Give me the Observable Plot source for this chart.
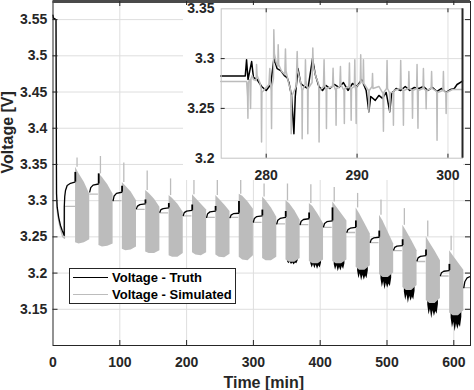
<!DOCTYPE html>
<html>
<head>
<meta charset="utf-8">
<script src="https://cdn.jsdelivr.net/npm/d3@7"></script>
<script src="https://cdn.jsdelivr.net/npm/@observablehq/plot@0.6"></script>
<style>
html,body{margin:0;padding:0;background:#fff;}
#chart{position:relative;width:474px;height:390px;overflow:hidden;background:#fff;font-family:"Liberation Sans",Arial,Helvetica,sans-serif;}
#chart svg{display:block;}
#main{position:absolute;left:0;top:0;}
#inset{position:absolute;left:183px;top:5px;}
#legend{position:absolute;left:69px;top:268px;width:167px;height:36px;box-sizing:border-box;border:1px solid #262626;background:#fff;}
.row{display:flex;align-items:center;height:17px;}
.sw{width:35px;margin-left:3px;margin-right:4px;}
.lab{font-size:13px;font-weight:bold;color:#000;white-space:nowrap;}
</style>
</head>
<body>
<div id="chart"><div id="main"></div><div id="inset"></div><div id="legend"></div></div>
<script>
// ---------- ticks & labels ----------
const xTicks = [0, 100, 200, 300, 400, 500, 600];
const yTicks = [3.15, 3.2, 3.25, 3.3, 3.35, 3.4, 3.45, 3.5, 3.55];
const xDomain = [0, 625];
const yDomain = [3.1, 3.575];
const insetXTicks = [280, 290, 300];
const insetYTicks = [3.2, 3.25, 3.3, 3.35];
const insetXDomain = [275.05, 301.6];
const insetYDomain = [3.2, 3.35];
const legendLabels = ["Voltage - Truth", "Voltage - Simulated"];
const xLabel = "Time [min]";
const yLabel = "Voltage [V]";
const truthColor = "#000000";
const simColor = "#bcbcbc";

// ---------- initial discharge + first rest: [time, volts] ----------
const initTruth = [[0, 3.556], [0.8, 3.552], [4.5, 3.550], [5.3, 3.310], [6.3, 3.291], [8.5, 3.277], [11.2, 3.2657], [13.8, 3.2587], [16.8, 3.252], [16.9, 3.292], [17.6, 3.306], [18.7, 3.314], [21.2, 3.321], [26.2, 3.324], [32.6, 3.3255]];
const initSim = [[0, 3.553], [0.8, 3.551], [4.5, 3.550], [5.2, 3.300], [6.5, 3.284], [8.5, 3.272], [11.2, 3.261], [14.5, 3.250], [17.2, 3.248], [17.3, 3.292], [33, 3.292]];

// ---------- pulse blocks (drive cycles) ----------
const blockStart = [33, 68, 103, 138, 173, 208, 243, 278, 313, 348, 383, 418, 453, 488, 523, 558, 593];
const blockPhase = [0.8, 6, 14, 22];
const simTop = [
  [3.346, 3.337, 3.325, 3.309], [3.337, 3.332, 3.322, 3.309], [3.325, 3.320, 3.312, 3.300],
  [3.314, 3.310, 3.302, 3.291], [3.307, 3.303, 3.295, 3.284], [3.308, 3.303, 3.295, 3.287],
  [3.307, 3.302, 3.294, 3.285], [3.309, 3.306, 3.298, 3.288], [3.305, 3.300, 3.290, 3.277],
  [3.300, 3.296, 3.286, 3.273], [3.296, 3.292, 3.281, 3.268], [3.298, 3.292, 3.282, 3.272],
  [3.290, 3.282, 3.268, 3.254], [3.280, 3.272, 3.256, 3.240], [3.266, 3.258, 3.245, 3.231],
  [3.250, 3.242, 3.230, 3.217], [3.231, 3.224, 3.214, 3.204]
];
const simLow = [
  [3.242, 3.240, 3.242, 3.246], [3.238, 3.236, 3.237, 3.240], [3.233, 3.231, 3.232, 3.236],
  [3.229, 3.227, 3.227, 3.231], [3.224, 3.222, 3.222, 3.227], [3.228, 3.225, 3.224, 3.228],
  [3.225, 3.222, 3.221, 3.226], [3.222, 3.218, 3.217, 3.224], [3.220, 3.217, 3.217, 3.222],
  [3.218, 3.215, 3.215, 3.220], [3.216, 3.213, 3.213, 3.218], [3.216, 3.213, 3.213, 3.218],
  [3.208, 3.204, 3.204, 3.210], [3.198, 3.194, 3.194, 3.200], [3.180, 3.176, 3.176, 3.183],
  [3.162, 3.158, 3.158, 3.165], [3.145, 3.141, 3.141, 3.148]
];
const peakPhase = 3;
const simPeak = [3.359, 3.361, 3.352, 3.341, 3.330, 3.330, 3.329, 3.329, 3.323, 3.323, 3.322, 3.318, 3.310, 3.301, 3.289, 3.272, 3.251];
// truth dips below the simulated band (blocks 10..17, 0-based index)
const dipBlocks = [9, 10, 11, 12, 13, 14, 15, 16];
const dipPhase = [3, 5, 7, 9, 11, 13, 15, 17, 19];
const truthDip = [
  [3.216, 3.213, 3.215, 3.212, 3.214, 3.211, 3.214, 3.213, 3.217],
  [3.213, 3.207, 3.212, 3.206, 3.211, 3.205, 3.210, 3.207, 3.214],
  [3.212, 3.204, 3.210, 3.202, 3.208, 3.203, 3.209, 3.205, 3.213],
  [3.203, 3.192, 3.199, 3.189, 3.197, 3.190, 3.196, 3.192, 3.203],
  [3.192, 3.180, 3.188, 3.177, 3.186, 3.179, 3.185, 3.181, 3.193],
  [3.174, 3.162, 3.170, 3.158, 3.168, 3.161, 3.167, 3.163, 3.175],
  [3.156, 3.142, 3.150, 3.137, 3.148, 3.140, 3.147, 3.143, 3.157],
  [3.138, 3.124, 3.132, 3.119, 3.130, 3.122, 3.129, 3.125, 3.139]
];
const truthKick = [3.339, 3.337, 3.320, 3.301, 3.296, 3.294, 3.292, 3.2988, 3.287, 3.285, 3.283, 3.290, 3.272, 3.258, 3.246, 3.232, 3.212];

// ---------- rests after each block ----------
const restPhase = [0, 1.5, 5, 13];
const truthRest = [
  [3.312, 3.318, 3.3215, 3.323], [3.300, 3.3065, 3.310, 3.3116], [3.289, 3.2925, 3.2945, 3.2956],
  [3.284, 3.2875, 3.289, 3.290], [3.2795, 3.2835, 3.2855, 3.2865], [3.277, 3.282, 3.2845, 3.2855],
  [3.2765, 3.280, 3.282, 3.2826], [3.2705, 3.2755, 3.278, 3.279], [3.268, 3.273, 3.2755, 3.277],
  [3.267, 3.2715, 3.274, 3.275], [3.264, 3.2685, 3.271, 3.272], [3.2565, 3.260, 3.262, 3.263],
  [3.2425, 3.2465, 3.2485, 3.2495], [3.232, 3.2355, 3.2372, 3.238], [3.217, 3.221, 3.223, 3.224],
  [3.1965, 3.2005, 3.2025, 3.2035], [3.180, 3.188, 3.1935, 3.1966]
];
const simRest = [3.309, 3.300, 3.288, 3.283, 3.279, 3.277, 3.2769, 3.270, 3.268, 3.267, 3.263, 3.256, 3.242, 3.231, 3.216, 3.196, 3.180];

// ---------- inset (zoom of block 8): [time, volts] ----------
const insetSim = [
  [275.0, 3.2769], [277.85, 3.2769], [277.95, 3.262], [277.99, 3.240], [278.03, 3.276], [278.2, 3.279], [278.28, 3.250], [278.33, 3.280],
  [278.46, 3.283], [278.6, 3.279], [278.9, 3.278], [278.94, 3.294], [279.0, 3.283], [279.3, 3.276], [279.45, 3.270], [279.49, 3.2162],
  [279.53, 3.266], [279.9, 3.270], [280.3, 3.274], [280.40, 3.290], [280.45, 3.276], [280.55, 3.268], [280.59, 3.2297], [280.63, 3.272],
  [280.8, 3.280], [280.84, 3.329], [280.9, 3.305], [281.1, 3.296], [281.28, 3.292], [281.32, 3.314], [281.38, 3.294], [281.7, 3.287],
  [282.05, 3.284], [282.12, 3.3096], [282.18, 3.288], [282.45, 3.276], [282.7, 3.268], [282.75, 3.2246], [282.8, 3.262], [283.3, 3.272],
  [283.41, 3.3072], [283.46, 3.288], [283.8, 3.276], [283.93, 3.268], [283.96, 3.2196], [284.0, 3.268], [284.28, 3.274], [284.32, 3.2988],
  [284.37, 3.278], [284.55, 3.270], [284.58, 3.2246], [284.62, 3.270], [285.05, 3.276], [285.13, 3.3106], [285.18, 3.292], [285.5, 3.281],
  [285.78, 3.274], [285.82, 3.2162], [285.86, 3.268], [286.3, 3.272], [286.37, 3.2988], [286.42, 3.275], [286.6, 3.268], [286.63, 3.2297],
  [286.67, 3.270], [287.3, 3.272], [287.36, 3.2903], [287.41, 3.274], [287.65, 3.268], [287.69, 3.233], [287.73, 3.270], [288.1, 3.272],
  [288.17, 3.292], [288.22, 3.274], [288.56, 3.268], [288.6, 3.2348], [288.64, 3.270], [289.1, 3.272], [289.16, 3.2955], [289.21, 3.272],
  [289.31, 3.268], [289.35, 3.238], [289.39, 3.270], [289.7, 3.272], [289.75, 3.2988], [289.79, 3.272], [289.86, 3.268], [289.9, 3.2348],
  [289.94, 3.272], [290.35, 3.275], [290.4, 3.3038], [290.45, 3.277], [290.65, 3.275], [290.7, 3.2988], [290.75, 3.275], [291.25, 3.268],
  [291.3, 3.2466], [291.34, 3.268], [291.65, 3.272], [291.7, 3.285], [291.75, 3.270], [292.4, 3.272], [292.85, 3.265], [292.9, 3.227],
  [292.94, 3.266], [293.25, 3.270], [293.3, 3.298], [293.35, 3.270], [293.56, 3.266], [293.6, 3.2466], [293.64, 3.266], [293.96, 3.266],
  [294.0, 3.233], [294.04, 3.268], [294.75, 3.270], [294.8, 3.298], [294.85, 3.271], [295.06, 3.268], [295.1, 3.233], [295.14, 3.268],
  [295.65, 3.270], [295.7, 3.287], [295.75, 3.270], [296.06, 3.268], [296.1, 3.240], [296.14, 3.268], [296.55, 3.270], [296.6, 3.294],
  [296.64, 3.268], [296.7, 3.230], [296.74, 3.268], [297.25, 3.270], [297.3, 3.290], [297.35, 3.270], [297.56, 3.268], [297.6, 3.2497],
  [297.64, 3.268], [298.15, 3.270], [298.2, 3.287], [298.25, 3.270], [298.76, 3.267], [298.8, 3.218], [298.84, 3.266], [299.45, 3.268],
  [299.5, 3.287], [299.55, 3.268], [299.76, 3.266], [299.8, 3.245], [299.84, 3.266], [300.5, 3.269], [301.6, 3.269]
];
const insetTruth = [
  [275.0, 3.2826], [277.7, 3.2826], [277.84, 3.2988], [278.0, 3.279], [278.4, 3.297], [278.6, 3.281], [279.0, 3.279], [279.5, 3.272],
  [280.0, 3.268], [280.5, 3.274], [280.85, 3.300], [281.2, 3.290], [281.6, 3.288], [282.0, 3.283], [282.3, 3.281], [282.5, 3.276],
  [282.8, 3.262], [283.05, 3.2246], [283.2, 3.262], [283.5, 3.290], [283.8, 3.275], [284.2, 3.272], [284.6, 3.270], [285.1, 3.300],
  [285.4, 3.284], [285.8, 3.272], [286.2, 3.268], [286.6, 3.273], [287.0, 3.270], [287.5, 3.274], [288.0, 3.271], [288.5, 3.276],
  [289.0, 3.268], [289.5, 3.275], [290.0, 3.272], [290.5, 3.279], [291.0, 3.268], [291.3, 3.2466], [291.5, 3.262], [292.0, 3.258],
  [292.4, 3.263], [292.8, 3.260], [293.2, 3.266], [293.6, 3.2466], [293.8, 3.265], [294.3, 3.270], [294.8, 3.268], [295.3, 3.272],
  [295.8, 3.268], [296.3, 3.271], [296.8, 3.270], [297.3, 3.272], [297.8, 3.268], [298.3, 3.271], [298.8, 3.267], [299.3, 3.270],
  [299.8, 3.266], [300.3, 3.269], [300.7, 3.270], [301.0, 3.274], [301.6, 3.2775]
];

// ---------- tables built from the arrays ----------
const pts = P => P.map(([t, v]) => ({t, v}));
const blockLen = blockPhase[blockPhase.length - 1];
const simBlockRows = blockStart.flatMap((s, i) => blockPhase.map((p, j) => ({b: i, t: s + p, lo: simLow[i][j], hi: simTop[i][j]})));
const dipRows = dipBlocks.flatMap((bi, k) => dipPhase.map((p, j) => ({b: bi, t: blockStart[bi] + p, lo: truthDip[k][j], hi: simTop[bi][3]})));
const peakRows = blockStart.map((s, i) => ({t: s + peakPhase, lo: simTop[i][0], hi: simPeak[i]}));
const kickRows = blockStart.map((s, i) => ({t: s + 0.4, lo: i === 0 ? initTruth[initTruth.length - 1][1] : truthRest[i - 1][3], hi: truthKick[i]}));
const simRestRows = blockStart.map((s, i) => ({t0: s + blockLen, t1: i + 1 < blockStart.length ? blockStart[i + 1] : xDomain[1] + 10, v: simRest[i]}));
const truthRestRows = blockStart.flatMap((s, i) => restPhase.map((p, j) => ({b: i, t: s + blockLen + p, v: truthRest[i][j]})));

const font = "'Liberation Sans', Arial, Helvetica, sans-serif";
const axisColor = "#262626";
const gridColor = "#dedede";
const fmt = d => String(d);

const main = Plot.plot({
  width: 474, height: 390,
  marginLeft: 52.5, marginRight: 4, marginTop: 1, marginBottom: 45,
  x: {domain: xDomain, label: null},
  y: {domain: yDomain, label: null},
  style: {fontFamily: font, fontSize: "14px", fontWeight: "bold", color: axisColor, background: "transparent", overflow: "visible"},
  marks: [
    Plot.gridX(xTicks.slice(1), {stroke: gridColor, strokeOpacity: 1}),
    Plot.gridY(yTicks, {stroke: gridColor, strokeOpacity: 1}),
    Plot.areaY(dipRows, {x: "t", y1: "lo", y2: "hi", z: "b", fill: truthColor}),
    Plot.areaY(simBlockRows, {x: "t", y1: "lo", y2: "hi", z: "b", fill: simColor}),
    Plot.ruleX(peakRows, {x: "t", y1: "lo", y2: "hi", stroke: simColor, strokeWidth: 1.3}),
    Plot.ruleY(simRestRows, {y: "v", x1: "t0", x2: "t1", stroke: simColor, strokeWidth: 1.3, clip: true}),
    Plot.line(pts(initSim), {x: "t", y: "v", stroke: simColor, strokeWidth: 1.3}),
    Plot.line(pts(initTruth), {x: "t", y: "v", stroke: truthColor, strokeWidth: 1.3}),
    Plot.line(truthRestRows, {x: "t", y: "v", z: "b", stroke: truthColor, strokeWidth: 1.3, clip: true}),
    Plot.ruleX(kickRows, {x: "t", y1: "lo", y2: "hi", stroke: truthColor, strokeWidth: 1.8}),
    Plot.frame({stroke: axisColor}),
    Plot.ruleY([yDomain[1]], {stroke: "#4a4a4a", strokeWidth: 3}),
    Plot.tickX(xTicks.slice(1), {x: d => d, insetTop: 339, stroke: axisColor}),
    Plot.tickX(xTicks.slice(1), {x: d => d, insetBottom: 339, stroke: axisColor}),
    Plot.tickY(yTicks, {y: d => d, insetRight: 412.5, stroke: axisColor}),
    Plot.tickY(yTicks, {y: d => d, insetLeft: 412.5, stroke: axisColor}),
    Plot.axisX(xTicks, {tickSize: 0, tickPadding: 11.8, tickFormat: fmt}),
    Plot.axisY(yTicks, {tickSize: 0, tickPadding: 5.8, tickFormat: fmt}),
    Plot.text([xLabel], {frameAnchor: "bottom", dy: 37.3, dx: 2, fontSize: 16, lineAnchor: "middle", text: d => d}),
    Plot.text([yLabel], {frameAnchor: "left", rotate: -90, dx: -45, fontSize: 16, lineAnchor: "middle", text: d => d})
  ]
});
document.getElementById("main").appendChild(main);

const inset = Plot.plot({
  width: 280, height: 175,
  marginLeft: 37.7, marginRight: 1, marginTop: 3.3, marginBottom: 22.3,
  x: {domain: insetXDomain, label: null},
  y: {domain: insetYDomain, label: null},
  style: {fontFamily: font, fontSize: "14px", fontWeight: "bold", color: axisColor, background: "#fff", overflow: "visible"},
  marks: [
    Plot.gridX(insetXTicks, {stroke: gridColor, strokeOpacity: 1}),
    Plot.gridY(insetYTicks.slice(1, 3), {stroke: gridColor, strokeOpacity: 1}),
    Plot.line(pts(insetTruth), {x: "t", y: "v", stroke: truthColor, strokeWidth: 1.5}),
    Plot.line(pts(insetSim), {x: "t", y: "v", stroke: simColor, strokeWidth: 1.5}),
    Plot.frame({stroke: "#c4c4c4"}),
    Plot.ruleX([insetXDomain[1]], {stroke: axisColor, strokeWidth: 2}),
    Plot.tickX(insetXTicks, {x: d => d, insetTop: 145.4, stroke: axisColor}),
    Plot.tickX(insetXTicks, {x: d => d, insetBottom: 145.4, stroke: axisColor}),
    Plot.tickY(insetYTicks.slice(1, 3), {y: d => d, insetRight: 237.3, stroke: axisColor}),
    Plot.axisX(insetXTicks, {tickSize: 0, tickPadding: 11.6, tickFormat: fmt}),
    Plot.axisY(insetYTicks, {tickSize: 0, tickPadding: 6.7, tickFormat: fmt})
  ]
});
document.getElementById("inset").appendChild(inset);

// ---------- legend ----------
const legendColors = [truthColor, simColor];
const lg = d3.select("#legend");
legendLabels.forEach((lab, i) => {
  const row = lg.append("div").attr("class", "row");
  row.append("div").attr("class", "sw").style("height", "0px").style("border-top", `1.6px solid ${legendColors[i]}`);
  row.append("div").attr("class", "lab").text(lab);
});
</script>
</body>
</html>
